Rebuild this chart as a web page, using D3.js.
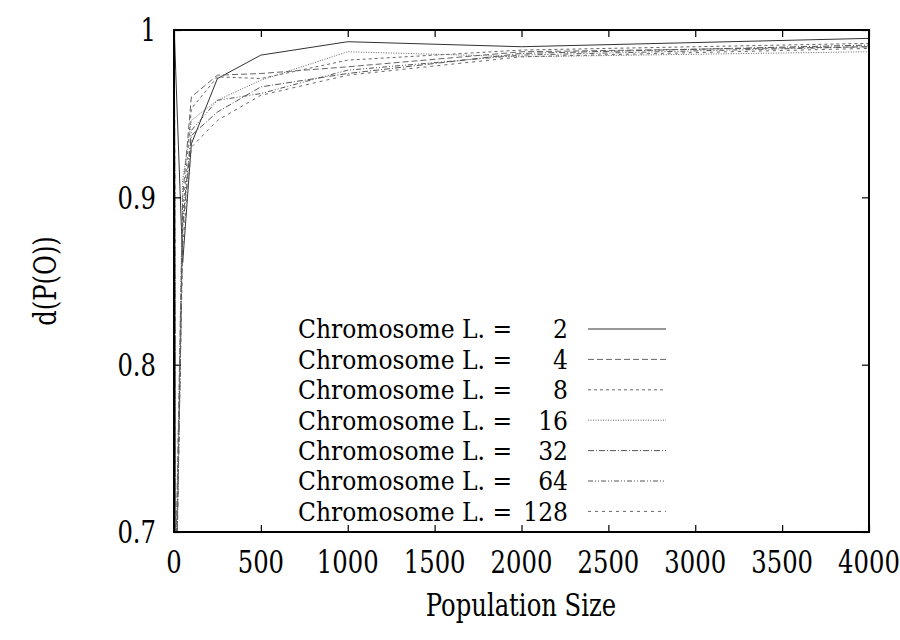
<!DOCTYPE html>
<html><head><meta charset="utf-8">
<script src="https://cdn.jsdelivr.net/npm/d3@7"></script>
<style>
body{margin:0;background:#fff;}
svg text{font-family:"DejaVu Serif Condensed","DejaVu Serif",serif;fill:#000;}
</style></head>
<body><svg id="c" width="900" height="640"></svg>
<script>
const popSizes = [2, 10, 50, 100, 250, 500, 1000, 2000, 4000];
const chromLengths = ["2", "4", "8", "16", "32", "64", "128"];
const vL2   = [1, 0.975, 0.861, 0.932, 0.971, 0.985, 0.993, 0.990, 0.995];
const vL4   = [1, 0.68, 0.900, 0.960, 0.973, 0.974, 0.978, 0.987, 0.990];
const vL8   = [1, 0.66, 0.890, 0.953, 0.972, 0.971, 0.982, 0.988, 0.992];
const vL16  = [1, 0.67, 0.910, 0.946, 0.958, 0.970, 0.987, 0.984, 0.987];
const vL32  = [1, 0.65, 0.880, 0.937, 0.951, 0.966, 0.974, 0.986, 0.991];
const vL64  = [1, 0.64, 0.885, 0.940, 0.958, 0.962, 0.976, 0.985, 0.990];
const vL128 = [1, 0.66, 0.870, 0.930, 0.946, 0.961, 0.973, 0.984, 0.989];
const xTicks = [0, 500, 1000, 1500, 2000, 2500, 3000, 3500, 4000];
const yTicks = [0.7, 0.8, 0.9, 1];

const seriesVals = [vL2, vL4, vL8, vL16, vL32, vL64, vL128];
const dashes = [null, "6,3", "3,3", "1,1.5", "6,2,1,2", "5,2,1,2,1,2", "3,4"];
const strokes = ["#333", "#666", "#666", "#666", "#555", "#555", "#666"];

const svg = d3.select("#c");
const L = 174, R = 869, T = 30, B = 532;
const x = d3.scaleLinear().domain([0, 4000]).range([L, R]);
const y = d3.scaleLinear().domain([0.7, 1]).range([B, T]);

function label(px, py, str, anchor, rot, fs = 27, sy = 1.18) {
  return svg.append("text")
    .attr("transform", `translate(${px},${py})` + (rot ? ` rotate(${rot})` : "") + ` scale(1,${sy})`)
    .attr("text-anchor", anchor).attr("dy", "0.36em")
    .attr("font-size", fs).text(str);
}

svg.append("clipPath").attr("id","clip").append("rect")
  .attr("x", L).attr("y", T).attr("width", R-L).attr("height", B-T);

const line = d3.line().x(d => x(d[0])).y(d => y(d[1]));
const g = svg.append("g").attr("clip-path","url(#clip)");
seriesVals.forEach((vals, i) => {
  g.append("path")
    .attr("d", line(popSizes.map((p, j) => [p, vals[j]])))
    .attr("fill","none").attr("stroke", strokes[i]).attr("stroke-width", 1)
    .attr("stroke-dasharray", dashes[i]);
});

// frame
svg.append("rect").attr("x",L).attr("y",T).attr("width",R-L).attr("height",B-T)
  .attr("fill","none").attr("stroke","#000").attr("stroke-width",2);

// axes with inward ticks (labels drawn separately)
const xa = svg.append("g").attr("transform",`translate(0,${B})`)
  .call(d3.axisBottom(x).tickValues(xTicks).tickSize(-7).tickFormat(""));
const xt = svg.append("g").attr("transform",`translate(0,${T})`)
  .call(d3.axisTop(x).tickValues(xTicks).tickSize(-7).tickFormat(""));
const ya = svg.append("g").attr("transform",`translate(${L},0)`)
  .call(d3.axisLeft(y).tickValues(yTicks).tickSize(-7).tickFormat(""));
const yr = svg.append("g").attr("transform",`translate(${R},0)`)
  .call(d3.axisRight(y).tickValues(yTicks).tickSize(-7).tickFormat(""));
[xa, xt, ya, yr].forEach(a => {
  a.select(".domain").remove();
  a.selectAll(".tick line").attr("stroke","#000").attr("stroke-width",1.2);
});

xTicks.forEach(t => label(x(t), 562, d3.format("d")(t), "middle"));
yTicks.forEach(t => label(156, y(t), t === 1 ? "1" : d3.format(".1f")(t), "end"));

label(521, 605, "Population Size", "middle");
label(45, 281, "d(P(O))", "middle", -90);

// legend
chromLengths.forEach((c, i) => {
  const yy = 329 + i * 30.4;
  label(298, yy, "Chromosome L. =", "start", 0, 26, 1.0);
  label(568, yy, c, "end", 0, 26, 1.0);
  svg.append("line").attr("x1", 588).attr("x2", 666).attr("y1", yy).attr("y2", yy)
    .attr("stroke", strokes[i]).attr("stroke-width",1).attr("stroke-dasharray", dashes[i]);
});
</script></body></html>
